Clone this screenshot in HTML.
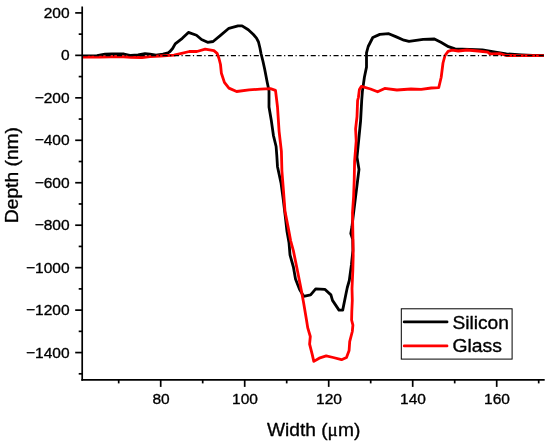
<!DOCTYPE html>
<html><head><meta charset="utf-8"><title>Depth profile</title>
<style>
html,body{margin:0;padding:0;background:#fff;}
body{width:550px;height:444px;overflow:hidden;}
svg{display:block;}
text{font-family:"Liberation Sans",Arial,sans-serif;fill:#000;stroke:#000;stroke-width:0.35px;stroke-linejoin:round;}
.tick text{font-size:15.5px;}
.big{font-size:20px;}
</style></head><body>
<svg width="550" height="444" viewBox="0 0 550 444">
<rect width="550" height="444" fill="#fff"/>
<polyline points="82.5,55.8 90.0,56.0 97.0,55.6 105.0,54.2 112.0,53.8 124.0,54.0 131.0,55.5 138.0,54.8 145.0,53.7 150.0,54.2 156.0,55.1 163.0,54.2 168.0,52.8 170.0,51.5 172.6,48.5 175.2,43.9 182.3,38.3 188.4,32.4 196.5,35.2 201.5,39.5 207.6,42.3 213.1,41.5 220.8,35.2 228.9,28.3 238.0,25.9 242.1,25.9 248.3,29.8 253.4,34.5 256.5,38.1 258.5,42.0 260.0,48.3 261.0,53.5 262.9,61.0 264.7,69.3 267.3,82.7 269.0,90.8 269.0,107.0 271.4,121.1 273.4,135.3 276.1,146.5 276.8,155.5 277.5,166.7 281.0,182.9 283.2,199.1 285.4,217.4 287.0,231.5 289.0,242.7 290.0,254.8 293.4,267.0 295.5,279.1 299.5,289.3 303.6,296.3 310.6,294.9 315.7,288.8 324.8,289.3 330.9,294.9 332.5,300.4 339.0,310.1 342.7,310.1 346.1,293.3 347.3,287.5 349.3,280.5 351.4,264.9 352.9,250.5 352.7,239.3 350.8,233.6 351.9,227.1 353.6,212.9 355.6,196.7 357.6,180.5 359.0,169.4 357.0,157.2 358.6,141.0 360.6,120.8 361.7,100.5 362.4,91.4 364.4,77.2 366.5,67.1 366.5,52.9 368.2,46.5 372.8,37.5 379.8,34.4 388.8,33.7 396.9,37.1 403.9,40.2 409.0,41.4 423.2,39.3 434.4,39.0 440.9,42.3 448.5,46.7 455.1,48.9 469.3,49.3 482.4,50.0 495.5,52.1 506.4,53.9 521.6,54.8 532.6,55.4 543.9,55.4" fill="none" stroke="#000" stroke-width="2.8" stroke-linejoin="round" stroke-linecap="butt"/>
<polyline points="82.5,57.1 100.0,57.1 120.0,56.5 131.0,57.3 142.0,57.5 150.0,56.7 160.0,56.0 174.0,55.2 181.6,53.4 189.3,51.5 196.9,51.5 205.2,49.2 213.9,50.7 217.1,53.3 219.0,58.5 220.5,64.5 221.4,73.3 224.4,82.4 228.9,88.1 236.6,91.5 249.1,89.9 260.3,89.1 270.4,88.7 275.5,90.4 277.5,107.0 279.1,131.3 281.4,151.5 281.9,170.8 283.5,191.0 285.0,211.3 288.2,227.5 290.6,240.5 293.4,250.8 297.5,271.0 301.5,291.3 303.6,302.7 306.5,320.0 307.7,327.6 310.3,336.5 309.6,344.2 312.2,354.4 313.8,361.4 319.2,358.2 326.2,355.9 333.2,357.5 341.5,359.7 346.5,357.5 349.1,350.5 349.7,341.6 352.3,331.5 352.9,325.1 351.6,320.0 351.8,311.5 352.3,300.5 352.0,288.5 352.8,271.0 353.2,255.5 353.0,241.3 352.5,212.9 353.6,196.7 354.2,180.5 354.6,161.3 356.2,141.0 355.6,128.9 357.0,116.7 357.6,100.5 358.4,97.5 359.4,89.4 361.4,86.3 370.5,89.0 377.6,91.8 384.7,88.4 396.9,90.0 411.0,89.0 421.2,89.4 431.3,88.0 438.7,87.7 441.2,77.2 443.0,63.0 445.0,55.5 448.1,51.3 452.0,50.2 458.4,51.0 467.1,50.0 478.0,51.0 487.8,52.1 490.0,53.9 499.8,53.7 506.4,55.5 521.6,55.6 543.9,55.6" fill="none" stroke="#ff0000" stroke-width="2.8" stroke-linejoin="round" stroke-linecap="butt"/>
<line x1="82.7" y1="55.56" x2="544" y2="55.56" stroke="#000" stroke-width="1.3" stroke-dasharray="5.1,2.5,1.2,2.6"/>
<g stroke="#000" stroke-width="1.7" fill="none">
<line x1="82.2" y1="6.5" x2="82.2" y2="380.7"/>
<line x1="81.4" y1="379.9" x2="544.7" y2="379.9"/>
<line x1="75.2" y1="12.90" x2="82.2" y2="12.90"/><line x1="78.7" y1="34.13" x2="82.2" y2="34.13"/><line x1="75.2" y1="55.36" x2="82.2" y2="55.36"/><line x1="78.7" y1="76.59" x2="82.2" y2="76.59"/><line x1="75.2" y1="97.82" x2="82.2" y2="97.82"/><line x1="78.7" y1="119.05" x2="82.2" y2="119.05"/><line x1="75.2" y1="140.28" x2="82.2" y2="140.28"/><line x1="78.7" y1="161.51" x2="82.2" y2="161.51"/><line x1="75.2" y1="182.74" x2="82.2" y2="182.74"/><line x1="78.7" y1="203.97" x2="82.2" y2="203.97"/><line x1="75.2" y1="225.20" x2="82.2" y2="225.20"/><line x1="78.7" y1="246.43" x2="82.2" y2="246.43"/><line x1="75.2" y1="267.66" x2="82.2" y2="267.66"/><line x1="78.7" y1="288.89" x2="82.2" y2="288.89"/><line x1="75.2" y1="310.12" x2="82.2" y2="310.12"/><line x1="78.7" y1="331.35" x2="82.2" y2="331.35"/><line x1="75.2" y1="352.58" x2="82.2" y2="352.58"/><line x1="78.7" y1="373.81" x2="82.2" y2="373.81"/>
<line x1="118.70" y1="379.9" x2="118.70" y2="383.4"/><line x1="160.70" y1="379.9" x2="160.70" y2="386.9"/><line x1="202.70" y1="379.9" x2="202.70" y2="383.4"/><line x1="244.70" y1="379.9" x2="244.70" y2="386.9"/><line x1="286.70" y1="379.9" x2="286.70" y2="383.4"/><line x1="328.70" y1="379.9" x2="328.70" y2="386.9"/><line x1="370.70" y1="379.9" x2="370.70" y2="383.4"/><line x1="412.70" y1="379.9" x2="412.70" y2="386.9"/><line x1="454.70" y1="379.9" x2="454.70" y2="383.4"/><line x1="496.70" y1="379.9" x2="496.70" y2="386.9"/><line x1="538.70" y1="379.9" x2="538.70" y2="383.4"/>
</g>
<g class="tick">
<text x="69.6" y="17.90" text-anchor="end">200</text><text x="69.6" y="60.36" text-anchor="end">0</text><text x="69.6" y="102.82" text-anchor="end">−200</text><text x="69.6" y="145.28" text-anchor="end">−400</text><text x="69.6" y="187.74" text-anchor="end">−600</text><text x="69.6" y="230.20" text-anchor="end">−800</text><text x="69.6" y="272.66" text-anchor="end">−1000</text><text x="69.6" y="315.12" text-anchor="end">−1200</text><text x="69.6" y="357.58" text-anchor="end">−1400</text>
<text x="161.00" y="404.2" text-anchor="middle">80</text><text x="245.00" y="404.2" text-anchor="middle">100</text><text x="329.00" y="404.2" text-anchor="middle">120</text><text x="413.00" y="404.2" text-anchor="middle">140</text><text x="497.00" y="404.2" text-anchor="middle">160</text>
</g>
<text x="266.9" y="436.3" style="font-size:18.7px" textLength="93.4" lengthAdjust="spacingAndGlyphs">Width (<tspan style="font-family:'Liberation Serif',serif">μ</tspan>m)</text>
<text transform="translate(18.1,175.1) rotate(-90)" text-anchor="middle" style="font-size:18.7px" textLength="96.2" lengthAdjust="spacingAndGlyphs">Depth (nm)</text>
<rect x="401.3" y="308.8" width="110.8" height="50.3" fill="#fff" stroke="#000" stroke-width="1"/>
<line x1="404.2" y1="321.9" x2="447" y2="321.9" stroke="#000" stroke-width="2.9" stroke-linecap="round"/>
<line x1="404.2" y1="345.9" x2="447" y2="345.9" stroke="#ff0000" stroke-width="2.8" stroke-linecap="round"/>
<text x="452.4" y="329.0" style="font-size:18.7px" textLength="56.5" lengthAdjust="spacingAndGlyphs">Silicon</text>
<text x="452.4" y="352.3" style="font-size:18.7px" textLength="49.5" lengthAdjust="spacingAndGlyphs">Glass</text>
</svg>
</body></html>
